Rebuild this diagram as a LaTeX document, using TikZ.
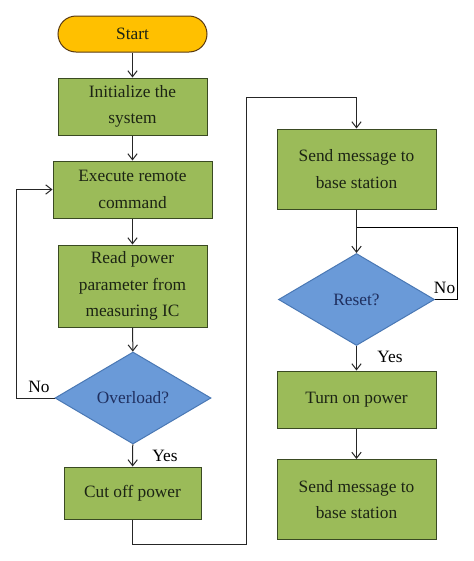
\documentclass[tikz,border=0pt]{standalone}
\usepackage{fontspec}
\setmainfont{Liberation Serif}
\usepackage{xcolor}
\usetikzlibrary{arrows.meta, shapes.geometric}

\definecolor{startfill}{HTML}{FFC000}
\definecolor{startline}{HTML}{5A3A10}
\definecolor{boxfill}{HTML}{9BBB59}
\definecolor{boxline}{HTML}{3A4A22}
\definecolor{decfill}{HTML}{6A9AD8}
\definecolor{decline}{HTML}{4A78B4}
\definecolor{dectext}{HTML}{1F2F5F}
\definecolor{inktext}{HTML}{1C2414}

\begin{document}
\begin{tikzpicture}[x=0.75pt, y=0.75pt, >={Straight Barb[length=4.5pt, width=7pt]}, line width=0.75pt,
    font=\fontsize{13}{20}\selectfont,
    startbox/.style={draw=startline, fill=startfill, rounded corners=13.5pt, minimum width=111.75pt, minimum height=27pt, text=inktext},
    procbox/.style={draw=boxline, fill=boxfill, minimum width=111.75pt, minimum height=42.75pt, align=center, text=inktext},
    decbox/.style={diamond, draw=decline, fill=decfill, aspect=1.7, minimum width=117pt, minimum height=69pt, inner sep=0pt, text=dectext},
    flow/.style={->, draw=black!85}]
    \useasboundingbox (0,0) rectangle (474,-561);

    % left column
    \node[startbox] (start) at (132.5,-34) {Start};
    \node[procbox] (init) at (132.5,-106.5) {Initialize the\\system};
    \node[procbox, minimum width=119.25pt] (exec) at (132.5,-189.5) {Execute remote\\command};
    \node[procbox, minimum height=61.5pt] (read) at (132.5,-286) {Read power\\parameter from\\measuring IC};
    \node[decbox] (over) at (133,-398) {Overload?};
    \node[procbox, minimum width=102.75pt, minimum height=39pt] (cut) at (132.5,-493) {Cut off power};

    % right column
    \node[procbox, minimum width=119.25pt, minimum height=60pt] (send1) at (356.5,-169) {Send message to\\base station};
    \node[decbox] (reset) at (356.5,-299.5) {Reset?};
    \node[procbox, minimum width=119.25pt] (turn) at (356.5,-399.5) {Turn on power};
    \node[procbox, minimum width=119.25pt, minimum height=60pt] (send2) at (356.5,-499.5) {Send message to\\base station};

    \coordinate (loopL) at (16,-398);
    \coordinate (botR) at (246,-544);
    \coordinate (topL) at (246,-97);
    \coordinate (join) at (356.5,-227);
    \coordinate (loopR) at (457,-299.5);

    \draw[flow] (start) -- (init);
    \draw[flow] (init) -- (exec);
    \draw[flow] (exec) -- (read);
    \draw[flow] (read) -- (over);
    \draw[flow] (over) -- (cut) node[pos=0.5, right=11pt] {Yes};
    \draw[flow] (over.west) -- (loopL) |- (exec.west);
    \node[above left] (noL) at (over.west) {No};
    \draw[flow] (cut.south) |- (botR) -- (topL) -| (send1.north);
    \draw[flow] (send1) -- (reset);
    \draw (reset.east) -- (loopR) |- (join);
    \node[anchor=south east, inner sep=1pt] (noR) at ([yshift=3pt]loopR) {No};
    \draw[flow] (reset) -- (turn) node[pos=0.45, right=12pt] {Yes};
    \draw[flow] (turn) -- (send2);
\end{tikzpicture}
\end{document}
